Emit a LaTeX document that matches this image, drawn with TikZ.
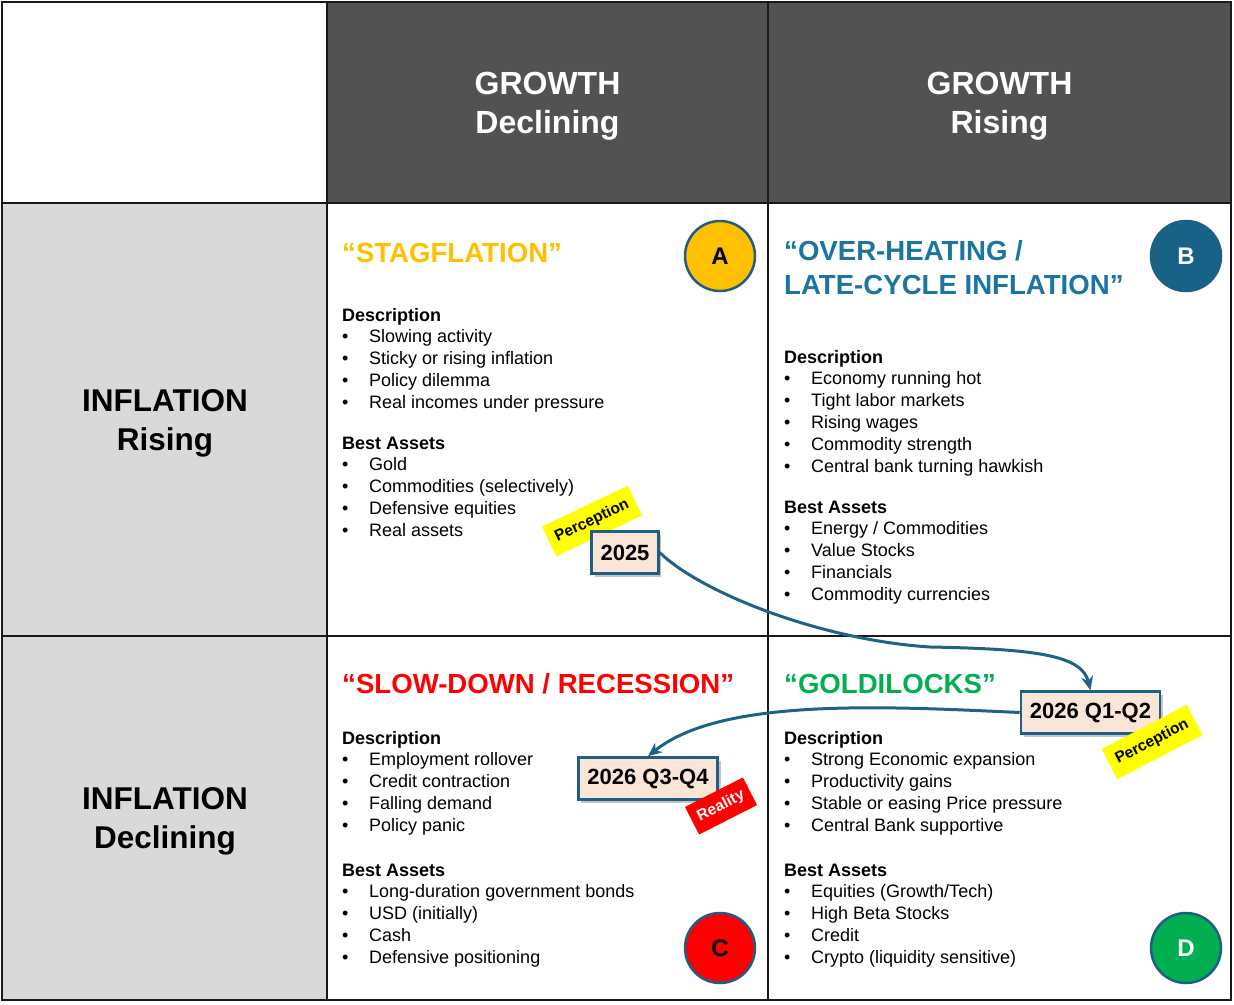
\documentclass[tikz,border=0pt]{standalone}
\usepackage{fontspec}
\setmainfont{Liberation Sans}
\usetikzlibrary{arrows.meta,shadows}
\definecolor{hdrgray}{HTML}{525252}
\definecolor{lgray}{HTML}{D9D9D9}
\definecolor{gold}{HTML}{FFC000}
\definecolor{tealtxt}{HTML}{1B75A0}
\definecolor{bfill}{HTML}{186187}
\definecolor{cborder}{HTML}{1F5F85}
\definecolor{grn}{HTML}{00B050}
\definecolor{peach}{HTML}{FBE5D6}
\definecolor{yel}{HTML}{FFFF00}
\definecolor{redc}{HTML}{FF0000}
\definecolor{arrowc}{HTML}{1F6285}
\tikzset{
  gridline/.style={line width=2pt, draw=black!90},
  hdrtxt/.style={text=white, inner sep=0, font=\bfseries\fontsize{32}{32}\selectfont, text height=22.5pt, text depth=0pt},
  rowtxt/.style={text=black, inner sep=0, font=\bfseries\fontsize{31.5}{31.5}\selectfont, text height=22.5pt, text depth=0pt},
  ttl/.style={anchor=west, inner sep=0, font=\bfseries\fontsize{27.6}{27.6}\selectfont, text height=19.8pt, text depth=0pt},
  head/.style={anchor=west, inner sep=0, font=\bfseries\fontsize{18}{18}\selectfont, text height=13pt, text depth=4pt},
  item/.style={anchor=west, inner sep=0, font=\fontsize{18}{18}\selectfont, text height=13pt, text depth=4pt},
  badge/.style={circle, draw=cborder, line width=2.5pt, minimum size=70pt, inner sep=0, font=\bfseries\fontsize{24}{24}\selectfont},
  yearbox/.style={draw=cborder, line width=2.5pt, fill=peach, font=\bfseries\fontsize{22}{22}\selectfont, minimum height=42pt, inner xsep=9pt, drop shadow={shadow xshift=3pt, shadow yshift=-3pt, fill=black!45, opacity=0.5}},
  tag/.style={inner sep=0, font=\bfseries\fontsize{15.5}{15.5}\selectfont},
  flow/.style={draw=arrowc, line width=3pt, -{Stealth[length=14pt,width=12pt]}}
}
\newcommand{\qlist}[5]{%
  \node[head] (#1h) at (#2,#3) {#4};
  \foreach \t [count=\i] in {#5}{
    \node[item] (#1i\i) at ({#2},{#3+21+22*(\i-1)}) {\makebox[27pt][l]{•}\t};
  }%
}
\begin{document}
\begin{tikzpicture}[x=1pt,y=-1pt]
\useasboundingbox (0,0) rectangle (1234,1004);
% backgrounds
\fill[hdrgray] (327,2) rectangle (1231,203);
\fill[lgray] (2,203) rectangle (327,1000);
% grid
\draw[gridline] (2,2) rectangle (1231,1000);
\draw[gridline] (327,2) -- (327,1000);
\draw[gridline] (768,2) -- (768,1000);
\draw[gridline] (2,203) -- (1231,203);
\draw[gridline] (2,636) -- (1231,636);
% headers
\node[hdrtxt] (g1a) at (547.5,83) {GROWTH};
\node[hdrtxt] (g1b) at (547.5,122) {Declining};
\node[hdrtxt] (g2a) at (999.5,83) {GROWTH};
\node[hdrtxt] (g2b) at (999.5,122) {Rising};
\node[rowtxt] (r1a) at (165,400) {INFLATION};
\node[rowtxt] (r1b) at (165,439) {Rising};
\node[rowtxt] (r2a) at (165,798) {INFLATION};
\node[rowtxt] (r2b) at (165,837) {Declining};
% titles
\node[ttl, text=gold] (tA) at (342,253) {“STAGFLATION”};
\node[ttl, text=tealtxt] (tB1) at (784,251) {“OVER-HEATING /};
\node[ttl, text=tealtxt] (tB2) at (784,285) {LATE-CYCLE INFLATION”};
\node[ttl, text=redc] (tC) at (342,684) {“SLOW-DOWN / RECESSION”};
\node[ttl, text=grn] (tD) at (784,684) {“GOLDILOCKS”};
% lists
\qlist{Ad}{342}{317}{Description}{Slowing activity, Sticky or rising inflation, Policy dilemma, Real incomes under pressure}
\qlist{Ab}{342}{445}{Best Assets}{Gold, Commodities (selectively), Defensive equities, Real assets}
\qlist{Bd}{784}{359}{Description}{Economy running hot, Tight labor markets, Rising wages, Commodity strength, Central bank turning hawkish}
\qlist{Bb}{784}{509}{Best Assets}{Energy / Commodities, Value Stocks, Financials, Commodity currencies}
\qlist{Cd}{342}{740}{Description}{Employment rollover, Credit contraction, Falling demand, Policy panic}
\qlist{Cb}{342}{872}{Best Assets}{Long-duration government bonds, USD (initially), Cash, Defensive positioning}
\qlist{Dd}{784}{740}{Description}{Strong Economic expansion, Productivity gains, Stable or easing Price pressure, Central Bank supportive}
\qlist{Db}{784}{872}{Best Assets}{Equities (Growth/Tech), High Beta Stocks, Credit, Crypto (liquidity sensitive)}
% badges
\node[badge, fill=gold, text=black] (cA) at (720,256) {A};
\node[badge, fill=bfill, text=white] (cB) at (1186,256) {B};
\node[badge, fill=redc, text=black] (cC) at (720,948) {C};
\node[badge, fill=grn, text=white] (cD) at (1186,948) {D};
% tags and year boxes
\node[tag, fill=yel, text=black, minimum width=95pt, minimum height=33pt, rotate=25.5] (p1) at (592,521) {Perception};
\node[yearbox] (y25) at (625,552.5) {2025};
\node[yearbox] (yQ34) at (648,778.5) {2026 Q3-Q4};
\node[tag, fill=redc, text=white, minimum width=65pt, minimum height=31pt, rotate=27] (real) at (721,806) {Reality};
\node[yearbox] (yQ12) at (1090.5,712.5) {2026 Q1-Q2};
\node[tag, fill=yel, text=black, minimum width=96pt, minimum height=34pt, rotate=27.4] (p2) at (1152,742) {Perception};
% arrows
\draw[flow] (y25.east) .. controls (700,592) and (820,640) .. (930,647) .. controls (1040,649) and (1082,656) .. (yQ12.north);
\draw[flow] (yQ12.west) .. controls (880,706) and (720,698) .. (yQ34.north);
\end{tikzpicture}
\end{document}
